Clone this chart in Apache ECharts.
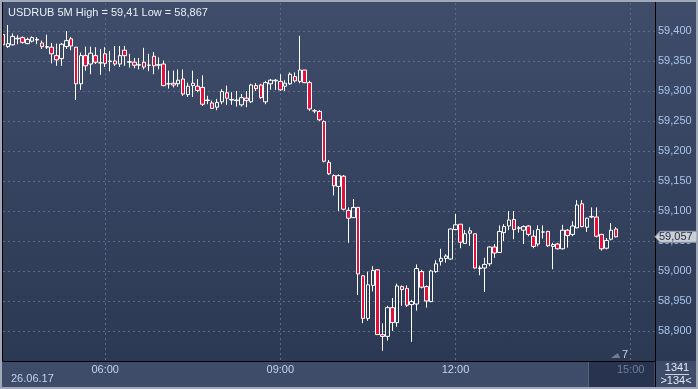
<!DOCTYPE html>
<html>
<head>
<meta charset="utf-8">
<script src="https://cdn.jsdelivr.net/npm/echarts@6/dist/echarts.min.js"></script>
<style>
html,body{margin:0;padding:0;background:#3e4c69;}
#c{width:698px;height:389px;background:linear-gradient(to bottom,#3f4d6a 0px,#2c3955 361px,#3e4c69 361px,#3e4c69 389px);}
</style>
</head>
<body>
<div id="c"></div>
<script>
// ---- data ----
const titleText = 'USDRUB 5M High = 59,41 Low = 58,867';
const dateText = '26.06.17';
const firstBarTime = '04:15';
const barMinutes = 5;
const slotCount = 135;            // bars + empty right margin slots
const labelTimes = ['06:00', '09:00', '12:00', '15:00'];
const priceMin = 58.85;
const priceMax = 59.4467;
const priceStep = 0.05;
const shiftText = '7';
const counterTop = '1341';
const counterBottom = '>134<';
// [open, close, low, high]
const candles = [
[59.394,59.377,59.375,59.398],[59.374,59.379,59.372,59.410],[59.377,59.391,59.376,59.396],[59.387,59.388,59.378,59.393],
[59.389,59.381,59.379,59.391],[59.379,59.386,59.378,59.389],[59.383,59.389,59.381,59.391],[59.386,59.385,59.378,59.390],
[59.380,59.374,59.370,59.384],[59.374,59.373,59.370,59.394],[59.373,59.362,59.346,59.380],[59.359,59.352,59.342,59.379],
[59.354,59.378,59.342,59.380],[59.374,59.384,59.370,59.400],[59.387,59.375,59.368,59.390],[59.373,59.312,59.285,59.373],
[59.312,59.359,59.302,59.364],[59.359,59.342,59.334,59.374],[59.345,59.363,59.328,59.374],[59.359,59.348,59.345,59.373],
[59.347,59.347,59.327,59.370],[59.362,59.346,59.340,59.373],[59.350,59.349,59.333,59.367],[59.350,59.345,59.342,59.375],
[59.345,59.359,59.340,59.375],[59.368,59.359,59.342,59.375],[59.349,59.348,59.339,59.362],[59.348,59.343,59.338,59.355],
[59.343,59.344,59.336,59.355],[59.348,59.340,59.336,59.372],[59.343,59.343,59.333,59.362],[59.358,59.342,59.328,59.365],
[59.343,59.344,59.336,59.356],[59.345,59.309,59.308,59.351],[59.312,59.312,59.304,59.334],[59.313,59.310,59.306,59.334],
[59.312,59.318,59.307,59.336],[59.320,59.295,59.292,59.336],[59.294,59.308,59.290,59.314],[59.309,59.313,59.290,59.334],
[59.308,59.301,59.298,59.320],[59.306,59.278,59.275,59.326],[59.285,59.284,59.278,59.292],[59.280,59.271,59.270,59.284],
[59.273,59.281,59.268,59.287],[59.282,59.299,59.278,59.303],[59.297,59.288,59.277,59.309],[59.285,59.286,59.277,59.298],
[59.284,59.285,59.274,59.300],[59.277,59.289,59.274,59.295],[59.288,59.284,59.273,59.300],[59.282,59.310,59.280,59.312],
[59.309,59.304,59.300,59.313],[59.310,59.289,59.287,59.312],[59.282,59.314,59.278,59.317],[59.312,59.318,59.302,59.320],
[59.317,59.318,59.302,59.320],[59.316,59.302,59.300,59.328],[59.308,59.313,59.300,59.318],[59.312,59.328,59.310,59.331],
[59.324,59.317,59.314,59.331],[59.316,59.335,59.313,59.392],[59.335,59.314,59.313,59.335],[59.314,59.270,59.267,59.317],
[59.267,59.267,59.263,59.270],[59.266,59.252,59.250,59.268],[59.249,59.183,59.181,59.251],[59.181,59.162,59.160,59.185],
[59.159,59.142,59.126,59.161],[59.141,59.159,59.100,59.161],[59.158,59.103,59.101,59.160],[59.101,59.088,59.047,59.106],
[59.089,59.106,59.089,59.120],[59.106,58.995,58.960,59.106],[58.992,58.921,58.913,58.993],[58.921,58.977,58.917,58.999],
[58.976,59.001,58.966,59.008],[59.002,58.894,58.894,59.003],[58.894,58.891,58.867,58.913],[58.891,58.939,58.884,58.942],
[58.939,58.914,58.900,58.955],[58.914,58.975,58.907,58.979],[58.974,58.969,58.942,58.976],[58.971,58.943,58.940,58.976],
[58.944,58.949,58.882,58.952],[58.945,59.004,58.934,59.011],[58.999,58.973,58.971,59.002],[58.974,58.950,58.939,58.976],
[58.949,59.000,58.948,59.002],[58.999,59.012,58.997,59.018],[59.016,59.021,59.009,59.037],[59.021,59.025,59.014,59.028],
[59.020,59.070,59.019,59.071],[59.069,59.077,59.068,59.095],[59.078,59.048,59.038,59.078],[59.046,59.062,59.045,59.068],
[59.063,59.067,59.042,59.073],[59.062,59.005,59.004,59.062],[59.004,59.005,58.993,59.009],[59.005,59.011,58.965,59.022],
[59.012,59.040,59.008,59.041],[59.040,59.030,59.022,59.045],[59.031,59.066,59.030,59.076],[59.064,59.074,59.050,59.078],
[59.075,59.085,59.068,59.100],[59.086,59.069,59.053,59.100],[59.071,59.072,59.064,59.075],[59.068,59.074,59.045,59.076],
[59.075,59.061,59.058,59.076],[59.058,59.041,59.038,59.068],[59.045,59.069,59.041,59.076],[59.065,59.065,59.054,59.076],
[59.066,59.042,59.040,59.067],[59.041,59.044,59.003,59.047],[59.045,59.037,59.036,59.047],[59.037,59.068,59.036,59.077],
[59.068,59.059,59.039,59.070],[59.061,59.075,59.058,59.083],[59.072,59.110,59.071,59.118],[59.112,59.074,59.073,59.118],
[59.073,59.088,59.065,59.089],[59.090,59.091,59.088,59.106],[59.090,59.058,59.056,59.106],[59.061,59.037,59.034,59.062],
[59.038,59.051,59.036,59.055],[59.053,59.068,59.051,59.080],[59.070,59.057,59.056,59.073]
];

// ---- build ----
const FONT = "'Liberation Sans Narrow','Liberation Sans',Arial,sans-serif";
const times = [];
{
  const [h0, m0] = firstBarTime.split(':').map(Number);
  for (let i = 0; i < slotCount; i++) {
    const t = h0 * 60 + m0 + i * barMinutes;
    times.push(String(Math.floor(t / 60) % 24).padStart(2, '0') + ':' + String(t % 60).padStart(2, '0'));
  }
}
const fmt = v => v.toFixed(3).replace('.', ',');
const isGridVal = v => {
  const k = (v - priceMin) / priceStep;
  return Math.abs(k - Math.round(k)) < 1e-6 && v > priceMin + 1e-6;
};

const chart = echarts.init(document.getElementById('c'), null, {renderer: 'canvas'});
const option = {
  animation: false,
  backgroundColor: 'transparent',
  textStyle: {fontFamily: FONT},
  title: {
    text: titleText, left: 3, top: 2,
    textStyle: {color: '#e9eef6', fontSize: 11, fontWeight: 'normal', fontFamily: FONT}
  },
  grid: {left: 3, right: 43, top: 3, bottom: 28},
  xAxis: {
    type: 'category', data: times, boundaryGap: false,
    axisLine: {show: true, lineStyle: {color: '#000', width: 1}},
    axisTick: {show: false},
    axisLabel: {
      interval: (i, v) => labelTimes.includes(v),
      margin: 3, fontSize: 11, fontFamily: FONT,
      color: v => v === '15:00' ? '#6e7f9d' : '#c2d4ee'
    },
    splitLine: {
      show: true, interval: (i, v) => labelTimes.includes(v),
      lineStyle: {color: '#5d6b88', type: [2, 3], width: 1}
    }
  },
  yAxis: {
    type: 'value', position: 'right', min: priceMin, max: priceMax, interval: priceStep,
    scale: true,
    axisLine: {show: true, lineStyle: {color: '#000', width: 1}},
    axisTick: {show: false},
    axisLabel: {
      margin: 3, fontSize: 11, fontFamily: FONT, color: '#a9c5ec',
      formatter: v => isGridVal(v) ? fmt(v) : ''
    },
    splitLine: {
      show: true, showMinLine: false, showMaxLine: false,
      lineStyle: {color: '#5d6b88', type: [2, 3], width: 1}
    }
  },
  series: [{
    type: 'candlestick',
    data: candles,
    barWidth: 4,
    clip: true,
    itemStyle: {
      color: 'rgba(0,0,0,0)', color0: '#e5103a',
      borderColor: '#ffffff', borderColor0: '#ffffff', borderColorDoji: '#ffffff',
      borderWidth: 1
    }
  }]
};
chart.setOption(option);

const lastClose = candles[candles.length - 1][1];
const py = chart.convertToPixel({yAxisIndex: 0}, lastClose);

chart.setOption({
  graphic: [
    {type: 'rect', z: -1, shape: {x: 588, y: 362, width: 66, height: 25}, style: {fill: '#28344f'}},
    {type: 'line', z: 1, shape: {x1: 588.5, y1: 362, x2: 588.5, y2: 387}, style: {stroke: '#56637d', lineWidth: 1}},
    {type: 'line', z: 50, shape: {x1: 655.5, y1: 0, x2: 655.5, y2: 389}, style: {stroke: '#000', lineWidth: 1}},
    {type: 'line', z: 50, shape: {x1: 2.5, y1: 0, x2: 2.5, y2: 361}, style: {stroke: '#000', lineWidth: 1}},
    {type: 'rect', z: 60, shape: {x: 1, y: 1, width: 696, height: 387}, style: {fill: 'none', stroke: '#a1a9b8', lineWidth: 2}},
    {type: 'text', z: 10, x: 11, y: 379, style: {text: dateText, fill: '#c2d4ee', font: '11px ' + FONT, textVerticalAlign: 'middle'}},
    {type: 'text', z: 10, x: 677, y: 368, style: {text: counterTop, fill: '#e3e9f2', font: '11px ' + FONT, textAlign: 'center', textVerticalAlign: 'middle'}},
    {type: 'line', z: 10, shape: {x1: 665, y1: 374.5, x2: 689, y2: 374.5}, style: {stroke: '#c8d2e0', lineWidth: 1}},
    {type: 'text', z: 10, x: 676, y: 381, style: {text: counterBottom, fill: '#e3e9f2', font: '11px ' + FONT, textAlign: 'center', textVerticalAlign: 'middle'}},
    {type: 'polygon', z: 10, shape: {points: [[611, 358], [620, 358], [618, 353]]}, style: {fill: '#6f7c92'}},
    {type: 'text', z: 10, x: 625, y: 355, style: {text: shiftText, fill: '#c8d4e4', font: '11px ' + FONT, textAlign: 'center', textVerticalAlign: 'middle'}},
    {type: 'polygon', z: 100, shape: {points: [[655, py], [660, py - 5.5], [697, py - 5.5], [697, py + 5.5], [660, py + 5.5]]},
      style: {fill: '#c9ced7', stroke: '#8f98a8', lineWidth: 1}},
    {type: 'text', z: 101, x: 659, y: py, style: {text: fmt(lastClose), fill: '#27303f', font: '11px ' + FONT, textVerticalAlign: 'middle'}}
  ]
});
</script>
</body>
</html>
